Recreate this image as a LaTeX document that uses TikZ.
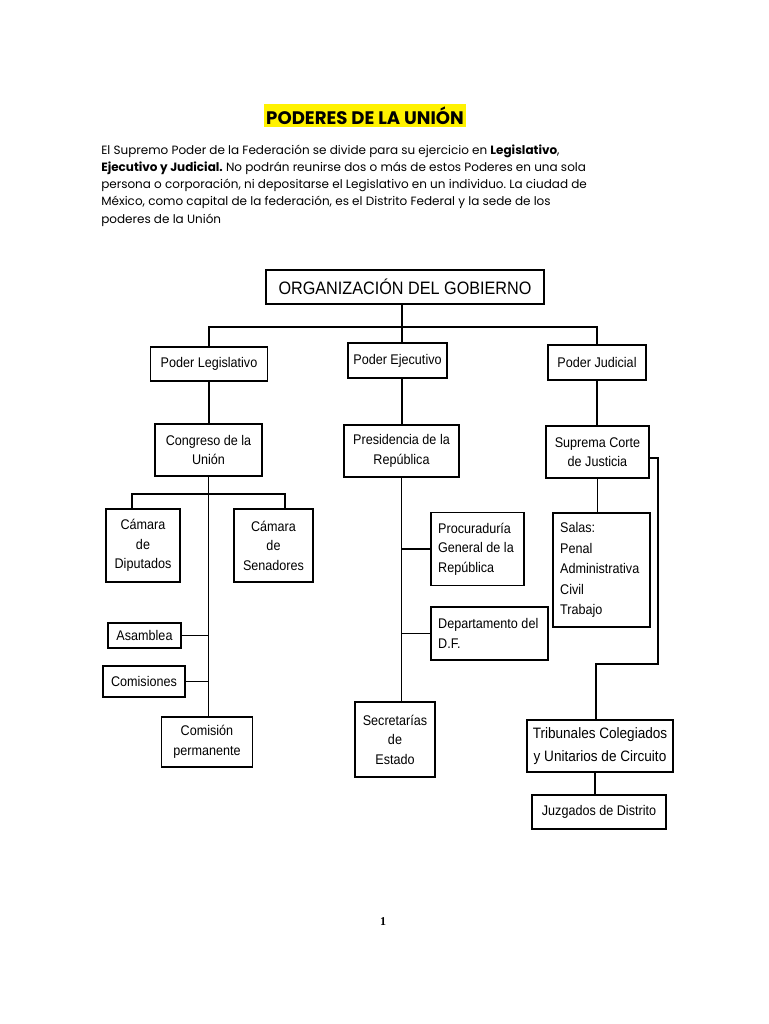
\documentclass[tikz,border=0pt]{standalone}
\usepackage{fontspec}
\setmainfont{Poppins}
\newfontfamily\diagfont[FakeStretch=0.9]{Liberation Sans}
\newfontfamily\numfont{Liberation Serif}

\tikzset{
  caja/.style={draw, line width=1.4pt, fill=white, align=center, inner sep=0pt,
    font=\diagfont\fontsize{10.5}{14.6}\selectfont},
  tam/.style 2 args={minimum width=#1*0.75pt, minimum height=#2*0.75pt},
  izq/.style={align=flush left, inner xsep=5pt, text width=#1},
  linea/.style={line width=1.4pt}
}

\begin{document}
\frenchspacing
\begin{tikzpicture}[x=0.75pt, y=-0.75pt]
\useasboundingbox[fill=white] (0,0) rectangle (768,1024);

% titulo y parrafo
\node[fill=yellow, tam={202}{23}, inner sep=0pt, font=\bfseries\fontsize{13.6}{15}\selectfont] (titulo) at (365,115.5) {PODERES DE LA UNIÓN};
\foreach \txt [count=\i from 0] in {
  {El Supremo Poder de la Federación se divide para su ejercicio en \textbf{Legislativo},},
  {\textbf{Ejecutivo y Judicial.} No podrán reunirse dos o más de estos Poderes en una sola},
  {persona o corporación, ni depositarse el Legislativo en un individuo. La ciudad de},
  {México,  como capital de la federación, es el Distrito Federal y la sede de los},
  {poderes de la Unión}}
  \node[anchor=base west, inner sep=0pt, font=\fontsize{9}{11}\selectfont] (p\i) at (101,154+17.3*\i) {\txt};

% organigrama
\node[caja, tam={278}{34}, font=\diagfont\fontsize{13.5}{16}\selectfont] (gob) at (405,287) {ORGANIZACIÓN DEL GOBIERNO};
\node[caja, tam={117}{34}] (leg) at (209,364) {Poder Legislativo};
\node[caja, tam={99}{35}] (eje) at (397.5,360.5) {Poder Ejecutivo};
\node[caja, tam={98}{35}] (jud) at (597,362.5) {Poder Judicial};
\node[caja, tam={107}{52}] (cong) at (208.5,450) {Congreso de la\\Unión};
\node[caja, tam={115}{52}] (pres) at (401.5,451) {Presidencia de la\\República};
\node[caja, tam={103}{52}] (corte) at (597.5,452) {Suprema Corte\\de Justicia};
\node[caja, tam={74}{73}] (dip) at (143,545.5) {Cámara\\de\\Diputados};
\node[caja, tam={79}{73}] (sen) at (273.5,545.5) {Cámara\\de\\Senadores};
\node[caja, tam={73}{25}] (asam) at (144.5,635.5) {Asamblea};
\node[caja, tam={82}{31}] (comis) at (144,681.5) {Comisiones};
\node[caja, tam={91}{50}] (cperm) at (207,742) {Comisión\\permanente};
\node[caja, izq=59pt, tam={93}{73}] (proc) at (477.5,549) {Procuraduría\\General de la\\República};
\node[caja, izq=77pt, tam={117}{53}] (depto) at (489.5,633.5) {Departamento del\\D.F.};
\node[caja, tam={80}{75}] (secr) at (395,739.5) {Secretarías\\de\\Estado};
\node[caja, izq=62pt, tam={97}{114}, font=\diagfont\fontsize{10.5}{15.4}\selectfont] (salas) at (601.5,570) {Salas:\\Penal\\Administrativa\\Civil\\Trabajo};
\node[caja, tam={146}{52}, font=\diagfont\fontsize{11.3}{17}\selectfont] (trib) at (600,746) {Tribunales Colegiados\\y Unitarios de Circuito};
\node[caja, tam={134}{34}] (juzg) at (599,812) {Juzgados de Distrito};

\coordinate (bus) at (402,327);
\coordinate (c2) at (208.5,494);
\coordinate (c3) at (658,664);

\draw[linea] (gob.south -| bus) -- (eje.north -| bus);
\draw[linea] (leg.north) |- (bus) -| (jud.north);
\draw[linea] (eje.south -| bus) -- (pres.north -| bus);
\draw[linea] (leg.south) -- (leg.south |- cong.north);
\draw[linea] (cong.south) -- (cong.south |- cperm.north);
\draw[linea] ([xshift=-8pt]dip.north) |- (c2) -| ([xshift=8.6pt]sen.north);
\draw[linea] (asam.east) -- (asam.east -| cong.south);
\draw[linea] (comis.east) -- (comis.east -| cong.south);
\draw[linea] (pres.south) -- (pres.south |- secr.north);
\draw[linea, line width=2.2pt] (proc.west) -- (proc.west -| pres.south);
\draw[linea] (depto.west) -- (depto.west -| pres.south);
\draw[linea] (jud.south) -- (jud.south |- corte.north);
\draw[linea] (corte.south) -- (corte.south |- salas.north);
\draw[linea] ([yshift=-4.3pt]corte.east) -| (c3) -| ([xshift=-3pt]trib.north);
\draw[linea] ([xshift=-3.5pt]trib.south) -- ([xshift=-3.5pt]trib.south |- juzg.north);

\node[font=\numfont\bfseries\fontsize{9}{10}\selectfont] (num) at (383,922) {1};
\end{tikzpicture}
\end{document}
